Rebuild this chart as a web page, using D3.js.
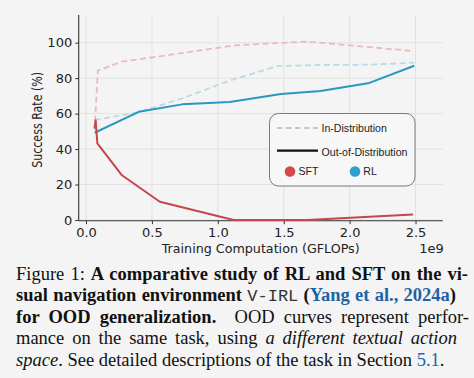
<!DOCTYPE html>
<html>
<head>
<meta charset="utf-8">
<script src="https://cdn.jsdelivr.net/npm/d3@7"></script>
<style>
  html, body { margin: 0; padding: 0; background: #f4f4f4; }
  svg { display: block; }
  text { white-space: pre; }
</style>
</head>
<body>
<svg id="chart" width="474" height="378"></svg>
<script>
// ---------------- data ----------------
const xTicks = [0, 0.5, 1.0, 1.5, 2.0, 2.5];
const xTickLabels = ["0.0", "0.5", "1.0", "1.5", "2.0", "2.5"];
const yTicks = [0, 20, 40, 60, 80, 100];
const yTickLabels = ["0", "20", "40", "60", "80", "100"];

// SFT (values in 1e9 GFLOPs)
const sftIdX  = [0.068, 0.09, 0.27, 0.56, 1.12, 1.45, 1.68, 2.48];
const sftIdY  = [55.5, 84.2, 89.3, 92.3, 98.4, 99.7, 100.6, 95.3];
const sftOodX = [0.064, 0.073, 0.086, 0.27, 0.56, 1.12, 1.68, 2.48];
const sftOodY = [51.5, 56.3, 43.2, 25.4, 10.3, 0.0, 0.0, 3.1];

// RL
const rlIdX  = [0.065, 0.40, 0.73, 1.09, 1.45, 1.78, 2.15, 2.49];
const rlIdY  = [56.4, 60.8, 68.6, 78.6, 86.8, 87.4, 87.6, 88.7];
const rlOodX = [0.065, 0.40, 0.73, 1.09, 1.48, 1.78, 2.15, 2.49];
const rlOodY = [49.2, 61.0, 65.2, 66.5, 71.0, 72.8, 77.3, 87.0];

const legendLines = ["In-Distribution", "Out-of-Distribution"];
const legendMethods = ["SFT", "RL"];

const xLabel = "Training Computation (GFLOPs)";
const yLabel = "Success Rate (%)";
const xOffset = "1e9";

const captionLines = [
  [["r", "Figure 1: "], ["b", "A comparative study of RL and SFT on the vi-"]],
  [["b", "sual navigation environment "], ["m", "V-IRL"], ["r", " "], ["b", "("], ["bl", "Yang et al., 2024a"], ["b", ")"]],
  [["b", "for OOD generalization."], ["r", "  OOD curves represent perfor-"]],
  [["r", "mance on the same task, using "], ["i", "a different textual action"]],
  [["i", "space"], ["r", ". See detailed descriptions of the task in Section "], ["l", "5.1"], ["r", "."]]
];
const captionWidths = [452, 440, 453, 441, null];

// ---------------- drawing ----------------
const svg = d3.select("#chart");
const W = 474, H = 378;
svg.append("rect").attr("width", W).attr("height", H).attr("fill", "#f4f4f4");

const plot = { left: 78.7, right: 442.7, top: 15, bottom: 220.7 };
const x = d3.scaleLinear().domain([-0.0555, 2.706]).range([plot.left, plot.right]);
const y = d3.scaleLinear().domain([-0.4, 115.6]).range([plot.bottom, plot.top]);

const colors = {
  sftId: "#eab9c2", rlId: "#b8dbe5",
  sft: "#c4474b", rl: "#2a97bf",
  sftMarker: "#d6474a", rlMarker: "#2ea0cf"
};

// grid
const grid = svg.append("g");
grid.selectAll("line.vx").data(xTicks).join("line")
  .attr("x1", d => x(d)).attr("x2", d => x(d))
  .attr("y1", plot.top).attr("y2", plot.bottom)
  .attr("stroke", "#e2e2e2").attr("stroke-width", 1);
grid.selectAll("line.hy").data(yTicks).join("line")
  .attr("x1", plot.left).attr("x2", plot.right)
  .attr("y1", d => y(d)).attr("y2", d => y(d))
  .attr("stroke", "#e2e2e2").attr("stroke-width", 1);

// axes
const xAxis = d3.axisBottom(x).tickValues(xTicks).tickFormat((d, i) => xTickLabels[i])
  .tickSizeInner(3.5).tickSizeOuter(0).tickPadding(4);
const yAxis = d3.axisLeft(y).tickValues(yTicks).tickFormat((d, i) => yTickLabels[i])
  .tickSizeInner(3.5).tickSizeOuter(0).tickPadding(3);

const gx = svg.append("g").attr("transform", `translate(0,${plot.bottom})`).call(xAxis);
const gy = svg.append("g").attr("transform", `translate(${plot.left},0)`).call(yAxis);
[gx, gy].forEach(g => {
  g.select(".domain").attr("stroke", "#333").attr("stroke-width", 1.1);
  g.selectAll(".tick line").attr("stroke", "#333").attr("stroke-width", 1);
  g.selectAll(".tick text").attr("fill", "#222")
    .attr("font-family", "DejaVu Sans").attr("font-size", 13);
});
gy.select(".domain").attr("d", `M0,${plot.bottom}V${plot.top}`);
gx.select(".domain").attr("d", `M${plot.left},0H${plot.right}`);

// axis labels
svg.append("text")
  .attr("x", (plot.left + plot.right) / 2).attr("y", 253)
  .attr("text-anchor", "middle").attr("fill", "#222")
  .attr("font-family", "DejaVu Sans").attr("font-size", 13)
  .attr("textLength", 198).attr("lengthAdjust", "spacingAndGlyphs")
  .text(xLabel);
svg.append("text")
  .attr("transform", `translate(41.5,${(plot.top + plot.bottom) / 2 + 2}) rotate(-90)`)
  .attr("text-anchor", "middle").attr("fill", "#222")
  .attr("font-family", "DejaVu Sans").attr("font-size", 13.5)
  .attr("textLength", 96).attr("lengthAdjust", "spacingAndGlyphs")
  .text(yLabel);
svg.append("text")
  .attr("x", plot.right + 1).attr("y", 253)
  .attr("text-anchor", "end").attr("fill", "#222")
  .attr("font-family", "DejaVu Sans").attr("font-size", 13)
  .text(xOffset);

// lines
const line = d3.line().x(d => x(d[0])).y(d => y(d[1]));
const zip = (a, b) => a.map((v, i) => [v, b[i]]);

const series = [
  { pts: zip(sftIdX, sftIdY), color: colors.sftId, dash: "6,3.5", w: 1.8 },
  { pts: zip(rlIdX, rlIdY), color: colors.rlId, dash: "6,3.5", w: 1.8 },
  { pts: zip(rlOodX, rlOodY), color: colors.rl, dash: null, w: 2 },
  { pts: zip(sftOodX, sftOodY), color: colors.sft, dash: null, w: 2 }
];
svg.append("g").selectAll("path").data(series).join("path")
  .attr("d", d => line(d.pts))
  .attr("fill", "none")
  .attr("stroke", d => d.color)
  .attr("stroke-width", d => d.w)
  .attr("stroke-dasharray", d => d.dash)
  .attr("stroke-linejoin", "round");

// legend
const lg = svg.append("g");
lg.append("rect").attr("x", 269.5).attr("y", 113.5).attr("width", 145.5).attr("height", 72.5)
  .attr("rx", 9).attr("fill", "#f7f7f7").attr("stroke", "#7a7a7a").attr("stroke-width", 1);
lg.append("line").attr("x1", 277).attr("x2", 318).attr("y1", 128).attr("y2", 128)
  .attr("stroke", "#c6c6c6").attr("stroke-width", 1.8).attr("stroke-dasharray", "5.5,3.5");
lg.append("line").attr("x1", 277).attr("x2", 318).attr("y1", 150.7).attr("y2", 150.7)
  .attr("stroke", "#111").attr("stroke-width", 2.2);
lg.selectAll("text.ll").data(legendLines).join("text")
  .attr("x", 321.5).attr("y", (d, i) => i === 0 ? 132 : 156.3)
  .attr("font-family", "Liberation Sans").attr("font-size", 10.6).attr("fill", "#222")
  .text(d => d);
const mPos = [[290, 298.5, colors.sftMarker], [355, 363.3, colors.rlMarker]];
lg.selectAll("circle").data(legendMethods).join("circle")
  .attr("cx", (d, i) => mPos[i][0]).attr("cy", 171.5).attr("r", 5.3)
  .attr("fill", (d, i) => mPos[i][2]);
lg.selectAll("text.lm").data(legendMethods).join("text")
  .attr("x", (d, i) => mPos[i][1]).attr("y", 175.3)
  .attr("font-family", "Liberation Sans").attr("font-size", 10.6).attr("fill", "#222")
  .text(d => d);

// caption
const styles = {
  r:  { family: "Liberation Serif", weight: "normal", style: "normal", fill: "#111" },
  b:  { family: "Liberation Serif", weight: "bold", style: "normal", fill: "#111" },
  i:  { family: "Liberation Serif", weight: "normal", style: "italic", fill: "#111" },
  m:  { family: "Liberation Mono", weight: "normal", style: "normal", fill: "#333" },
  bl: { family: "Liberation Serif", weight: "bold", style: "normal", fill: "#1f62a6" },
  l:  { family: "Liberation Serif", weight: "normal", style: "normal", fill: "#1f62a6" }
};
const baselines = [279.5, 301, 322.5, 344, 365.5];
const capG = svg.append("g");
captionLines.forEach((segs, li) => {
  const t = capG.append("text").attr("x", 16).attr("y", baselines[li])
    .attr("font-size", 18.5);
  segs.forEach(([k, s]) => {
    const st = styles[k];
    t.append("tspan").attr("font-family", st.family).attr("font-weight", st.weight)
      .attr("font-style", st.style).attr("fill", st.fill)
      .attr("font-size", k === "m" ? 17 : 18.5)
      .text(s);
  });
  const target = captionWidths[li];
  if (target) {
    const w = t.node().getComputedTextLength();
    const nSp = segs.map(s => s[1]).join("").split(" ").length - 1;
    if (nSp > 0) t.attr("word-spacing", (target - w) / nSp);
  }
});
</script>
</body>
</html>
